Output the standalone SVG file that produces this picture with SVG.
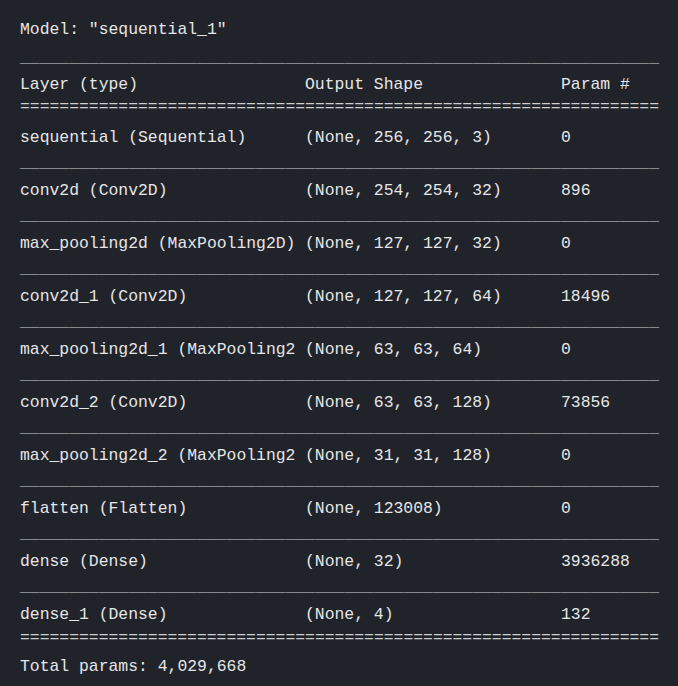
<svg xmlns="http://www.w3.org/2000/svg" width="678" height="686" viewBox="0 0 678 686">
<style>
text{font-family:"Liberation Mono","DejaVu Sans Mono",monospace;font-size:16.4px;fill:#e6e6e6;white-space:pre}
.sep{fill:#cfcfcf;font-size:15px}
</style>
<rect width="678" height="686" fill="#21232b"/>
<g id="title"><text x="20" y="34">Model: "sequential_1"</text></g>
<g id="header">
<text class="sep" x="20" y="62" textLength="639" lengthAdjust="spacingAndGlyphs">_________________________________________________________________</text>
<text x="20" y="89">Layer (type)</text><text x="305" y="89">Output Shape</text><text x="561" y="89">Param #</text>
<text class="sep" x="20" y="111" textLength="639" lengthAdjust="spacingAndGlyphs">=================================================================</text>
</g>
<g id="rows">
<text x="20" y="142">sequential (Sequential)</text><text x="305" y="142">(None, 256, 256, 3)</text><text x="561" y="142">0</text>
<text class="sep" x="20" y="167" textLength="639" lengthAdjust="spacingAndGlyphs">_________________________________________________________________</text>
<text x="20" y="195">conv2d (Conv2D)</text><text x="305" y="195">(None, 254, 254, 32)</text><text x="561" y="195">896</text>
<text class="sep" x="20" y="220" textLength="639" lengthAdjust="spacingAndGlyphs">_________________________________________________________________</text>
<text x="20" y="248">max_pooling2d (MaxPooling2D)</text><text x="305" y="248">(None, 127, 127, 32)</text><text x="561" y="248">0</text>
<text class="sep" x="20" y="273" textLength="639" lengthAdjust="spacingAndGlyphs">_________________________________________________________________</text>
<text x="20" y="301">conv2d_1 (Conv2D)</text><text x="305" y="301">(None, 127, 127, 64)</text><text x="561" y="301">18496</text>
<text class="sep" x="20" y="326" textLength="639" lengthAdjust="spacingAndGlyphs">_________________________________________________________________</text>
<text x="20" y="354">max_pooling2d_1 (MaxPooling2</text><text x="305" y="354">(None, 63, 63, 64)</text><text x="561" y="354">0</text>
<text class="sep" x="20" y="379" textLength="639" lengthAdjust="spacingAndGlyphs">_________________________________________________________________</text>
<text x="20" y="407">conv2d_2 (Conv2D)</text><text x="305" y="407">(None, 63, 63, 128)</text><text x="561" y="407">73856</text>
<text class="sep" x="20" y="432" textLength="639" lengthAdjust="spacingAndGlyphs">_________________________________________________________________</text>
<text x="20" y="460">max_pooling2d_2 (MaxPooling2</text><text x="305" y="460">(None, 31, 31, 128)</text><text x="561" y="460">0</text>
<text class="sep" x="20" y="485" textLength="639" lengthAdjust="spacingAndGlyphs">_________________________________________________________________</text>
<text x="20" y="513">flatten (Flatten)</text><text x="305" y="513">(None, 123008)</text><text x="561" y="513">0</text>
<text class="sep" x="20" y="538" textLength="639" lengthAdjust="spacingAndGlyphs">_________________________________________________________________</text>
<text x="20" y="566">dense (Dense)</text><text x="305" y="566">(None, 32)</text><text x="561" y="566">3936288</text>
<text class="sep" x="20" y="591" textLength="639" lengthAdjust="spacingAndGlyphs">_________________________________________________________________</text>
<text x="20" y="619">dense_1 (Dense)</text><text x="305" y="619">(None, 4)</text><text x="561" y="619">132</text>
<text class="sep" x="20" y="642" textLength="639" lengthAdjust="spacingAndGlyphs">=================================================================</text>
</g>
<g id="total"><text x="20" y="671">Total params: 4,029,668</text></g>
</svg>
